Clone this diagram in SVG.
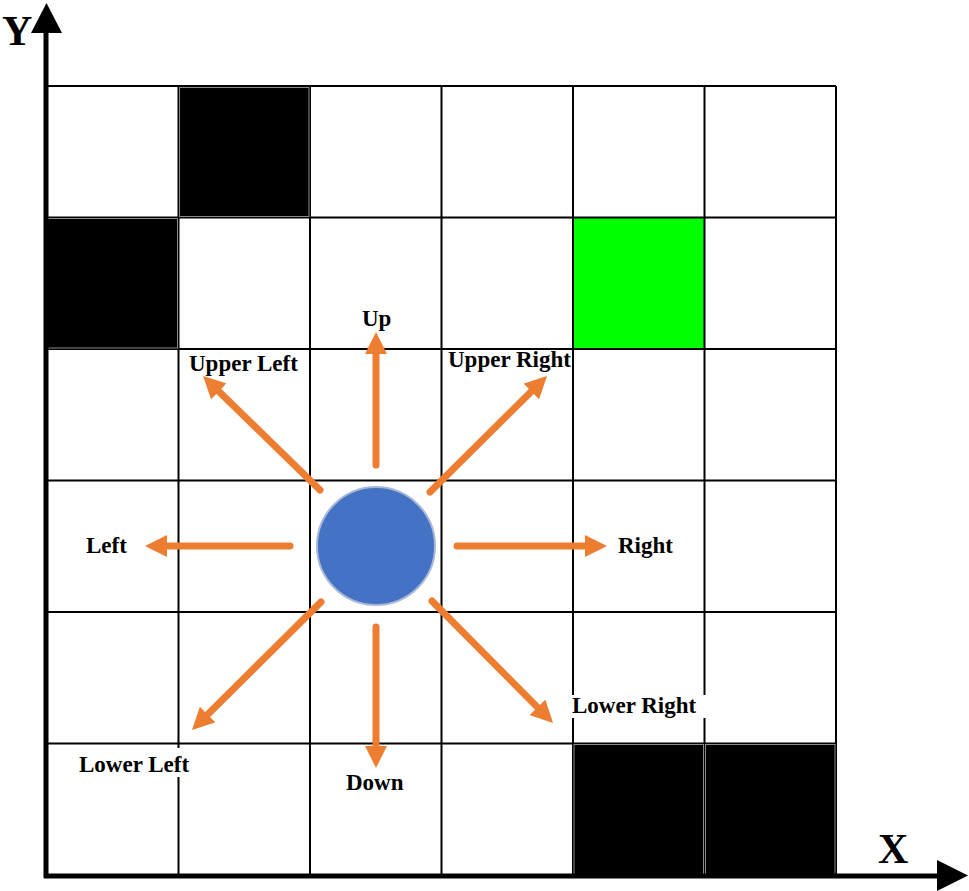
<svg xmlns="http://www.w3.org/2000/svg" width="969" height="891" viewBox="0 0 969 891">
<defs>
<style>
.grid{stroke:#000;stroke-width:2;fill:none}
.blk{fill:#000;stroke:#8a8a8a;stroke-width:1}
.arr{stroke:#ED7D31;stroke-width:7;stroke-linecap:round;fill:none;marker-end:url(#ah)}
.lbl{font-family:"Liberation Serif","Times New Roman",serif;font-weight:bold;font-size:23px;fill:#000}
.ax{font-family:"Liberation Serif","Times New Roman",serif;font-weight:bold;font-size:42px;fill:#000}
.axis{stroke:#000;stroke-width:5;fill:none}
</style>
<marker id="ah" markerUnits="userSpaceOnUse" markerWidth="22" markerHeight="22" viewBox="0 0 22 22" refX="12" refY="11" orient="auto">
<path d="M0,0 L22,11 L0,22 Z" fill="#ED7D31"/>
</marker>
</defs>
<rect width="969" height="891" fill="#fff"/>
<g id="cells">
<rect id="goal" x="573" y="217.5" width="131.5" height="131.5" fill="#00FF00"/>
</g>
<g id="grid" class="grid">
<line x1="47" y1="86" x2="836" y2="86"/>
<line x1="47" y1="217.5" x2="836" y2="217.5"/>
<line x1="47" y1="349" x2="836" y2="349"/>
<line x1="47" y1="480.5" x2="836" y2="480.5"/>
<line x1="47" y1="612" x2="836" y2="612"/>
<line x1="47" y1="743.5" x2="836" y2="743.5"/>
<line x1="178.5" y1="86" x2="178.5" y2="876"/>
<line x1="310" y1="86" x2="310" y2="876"/>
<line x1="441.5" y1="86" x2="441.5" y2="876"/>
<line x1="573" y1="86" x2="573" y2="876"/>
<line x1="704.5" y1="86" x2="704.5" y2="876"/>
<line x1="836" y1="86" x2="836" y2="876"/>
</g>
<g id="obstacles">
<rect class="blk" x="179.5" y="87.5" width="129.5" height="129"/>
<rect class="blk" x="47.5" y="218.5" width="130" height="129.5"/>
<rect class="blk" x="574" y="744.5" width="129.5" height="130"/>
<rect class="blk" x="705.5" y="744.5" width="129.5" height="130"/>
</g>
<g id="axes">
<line class="axis" x1="46" y1="878" x2="46" y2="30"/>
<polygon points="31,33 46.5,3 62,33" fill="#000"/>
<line class="axis" x1="44" y1="876" x2="940" y2="876"/>
<polygon points="937,860 968,875.5 937,891" fill="#000"/>
<text class="ax" x="2" y="45">Y</text>
<text class="ax" x="878" y="863">X</text>
</g>
<g id="connectors">
<line class="arr" x1="376" y1="465" x2="376" y2="342"/>
<line class="arr" x1="430" y1="492" x2="539.9" y2="383"/>
<line class="arr" x1="457" y1="546" x2="597" y2="546"/>
<line class="arr" x1="320" y1="490" x2="210.2" y2="383"/>
<line class="arr" x1="290" y1="546" x2="155" y2="546"/>
<line class="arr" x1="321" y1="602" x2="199.1" y2="723"/>
<line class="arr" x1="376" y1="627" x2="376" y2="758"/>
<line class="arr" x1="432" y1="601" x2="546" y2="715.9"/>
</g>
<g id="agent">
<circle cx="376" cy="546" r="59" fill="#4472C4" stroke="#A9B9D6" stroke-width="2"/>
</g>
<g id="label-up"><text class="lbl" x="362" y="326">Up</text></g>
<g id="label-upper-right"><text class="lbl" x="448" y="367">Upper Right</text></g>
<g id="label-upper-left"><text class="lbl" x="189" y="371">Upper Left</text></g>
<g id="label-left"><text class="lbl" x="86" y="553">Left</text></g>
<g id="label-right"><text class="lbl" x="618" y="553">Right</text></g>
<g id="label-lower-left"><rect x="77" y="748" width="116" height="29" fill="#fff"/><text class="lbl" x="79" y="772">Lower Left</text></g>
<g id="label-down"><text class="lbl" x="346" y="790">Down</text></g>
<g id="label-lower-right"><rect x="569" y="695" width="139" height="23" fill="#fff"/><text class="lbl" x="572" y="713">Lower Right</text></g>
</svg>
